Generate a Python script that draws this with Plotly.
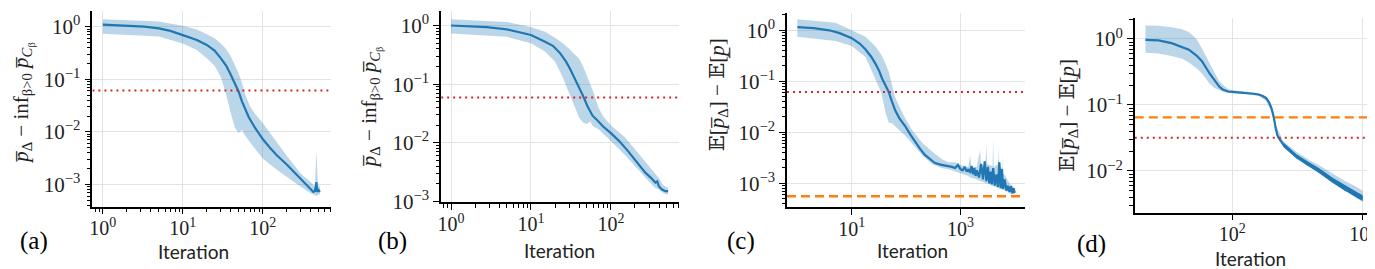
import plotly.graph_objects as go
import numpy as np

# ---------------- data ----------------
# Panel (a)
a_x = [1, 2, 3.3, 5, 7, 10, 15, 20, 25, 30, 35, 40, 45, 50, 55, 60, 67, 80, 100, 120, 150, 200, 250, 300, 350, 400, 430, 450, 470, 480, 500, 520]
a_mean = [1.09, 1.05, 1.0, 0.93, 0.83, 0.69, 0.56, 0.45, 0.35, 0.25, 0.18, 0.12, 0.08, 0.058, 0.038, 0.027, 0.019, 0.012, 0.0073, 0.0052, 0.0036, 0.0024, 0.0017, 0.0013, 0.001, 0.00082, 0.00072, 0.00075, 0.0011, 0.00072, 0.00078, 0.00072]
a_bx = [1, 5, 10, 15, 20, 25, 30, 35, 40, 45, 50, 55, 60, 70, 80, 100, 150, 200, 300, 400, 450, 470, 490, 520]
a_hi = [1.38, 1.25, 1.04, 0.88, 0.72, 0.6, 0.48, 0.37, 0.27, 0.19, 0.13, 0.085, 0.053, 0.03, 0.022, 0.0147, 0.0063, 0.0035, 0.0016, 0.0011, 0.0009, 0.0045, 0.001, 0.0009]
a_lo = [0.735, 0.65, 0.48, 0.36, 0.25, 0.18, 0.11, 0.05, 0.022, 0.012, 0.0095, 0.011, 0.0085, 0.0065, 0.0048, 0.0031, 0.0019, 0.0014, 0.0009, 0.00068, 0.00062, 0.0006, 0.00062, 0.00066]
a_ref = 0.061

# Panel (b)
b_x = [1, 2.8, 5, 10, 15, 18.8, 23, 27.6, 31, 35, 40, 44.4, 51, 59, 68, 80, 100, 127, 160, 203, 240, 270, 320, 360, 380, 400, 437, 480, 520]
b_mean = [1.0, 0.94, 0.86, 0.69, 0.53, 0.45, 0.34, 0.24, 0.18, 0.128, 0.09, 0.065, 0.042, 0.029, 0.024, 0.019, 0.0146, 0.0107, 0.0075, 0.005, 0.0038, 0.0031, 0.0025, 0.0021, 0.0022, 0.0018, 0.0016, 0.0015, 0.0015]
b_bx = [1, 5, 10, 15, 20, 25, 30, 35, 40, 45, 50, 55, 60, 70, 80, 100, 150, 200, 300, 360, 400, 450, 520]
b_hi = [1.28, 1.15, 0.94, 0.78, 0.62, 0.5, 0.4, 0.33, 0.27, 0.2, 0.14, 0.1, 0.075, 0.04, 0.028, 0.02, 0.0125, 0.0078, 0.004, 0.0029, 0.0025, 0.0019, 0.0017]
b_lo = [0.73, 0.64, 0.5, 0.36, 0.24, 0.13, 0.075, 0.042, 0.027, 0.022, 0.021, 0.023, 0.019, 0.017, 0.0145, 0.0107, 0.0062, 0.004, 0.0022, 0.0017, 0.0016, 0.0014, 0.0013]
b_ref = 0.059

# Panel (c)
c_x = [1, 2, 3.86, 6, 10, 14, 18, 23, 27.4, 32, 36, 42, 48, 55, 63, 75, 96, 120, 146, 180, 222, 280, 340, 450, 595, 700,
       800, 900, 1000, 1100, 1200, 1300, 1400, 1500, 1600, 1700, 1800, 1900, 2000, 2200, 2400, 2600, 2800, 3000, 3200,
       3400, 3600, 3800, 4000, 4300, 4600, 4900, 5200, 5500, 5800, 6100, 6500, 7000, 7500, 8000, 8500, 9000, 9500, 10000]
c_mean = [1.15, 1.1, 1.0, 0.88, 0.7, 0.55, 0.42, 0.3, 0.22, 0.16, 0.115, 0.085, 0.062, 0.04, 0.027, 0.019, 0.0133, 0.009, 0.0065, 0.0048, 0.0036, 0.0029, 0.0025, 0.0023, 0.0022, 0.0021,
          0.0020, 0.0023, 0.0019, 0.0018, 0.0021, 0.0017, 0.0019, 0.0016, 0.0022, 0.0015, 0.0020, 0.0014, 0.0018, 0.0013, 0.0024, 0.0012, 0.0027, 0.0011, 0.0021,
          0.0010, 0.0017, 0.00095, 0.0020, 0.0009, 0.0015, 0.00085, 0.0026, 0.0008, 0.0019, 0.00078, 0.0012, 0.00072, 0.0009, 0.00068, 0.00088, 0.00064, 0.0008, 0.00065]
c_bx = [1, 5, 10, 18, 27, 35, 42, 48, 55, 63, 75, 96, 130, 200, 300, 450, 600,
        800, 1000, 1400, 1500, 1600, 2000, 2300, 2400, 2900, 3000, 3100, 3900, 4000, 4100, 4900, 5000, 5100, 5900, 6000, 6100, 7000, 8000, 9000, 10000]
c_hi = [1.65, 1.4, 1.0, 0.75, 0.49, 0.33, 0.22, 0.154, 0.085, 0.049, 0.032, 0.019, 0.011, 0.0062, 0.0042, 0.003, 0.0026,
        0.0026, 0.0023, 0.0021, 0.0035, 0.0021, 0.0021, 0.0045, 0.0022, 0.0024, 0.006, 0.0024, 0.0022, 0.0075, 0.0021, 0.0024, 0.0048, 0.0024, 0.0019, 0.0035, 0.0016, 0.0013, 0.001, 0.0009, 0.0008]
c_lo = [0.75, 0.62, 0.49, 0.3, 0.115, 0.06, 0.024, 0.0154, 0.015, 0.0133, 0.011, 0.0087, 0.006, 0.0035, 0.0024, 0.002, 0.0019,
        0.0017, 0.0016, 0.0014, 0.0013, 0.0013, 0.0012, 0.0011, 0.0011, 0.001, 0.001, 0.001, 0.0009, 0.0009, 0.0009, 0.0008, 0.0008, 0.0008, 0.00075, 0.00075, 0.00075, 0.0007, 0.00065, 0.00062, 0.0006]
c_ref = 0.062
c_base = 0.00056

# Panel (d)
d_x = [1, 2, 4, 7, 10, 15, 20, 30, 40, 50, 60, 70, 80, 100, 150, 200, 300, 400, 500, 600, 700, 800, 900, 1000, 1100, 1200, 1500, 2000, 3000, 5000, 7500, 10000, 20000, 40000, 70000, 100000]
d_mean = [0.97, 0.95, 0.865, 0.76, 0.69, 0.56, 0.46, 0.30, 0.23, 0.19, 0.172, 0.164, 0.16, 0.158, 0.155, 0.153, 0.148, 0.144, 0.137, 0.127, 0.11, 0.088, 0.065, 0.044, 0.034, 0.031, 0.025, 0.021, 0.0165, 0.013, 0.011, 0.0098, 0.007, 0.0052, 0.0044, 0.0039]
d_bx = [1, 2, 4, 7, 10, 15, 20, 30, 40, 50, 60, 70, 80, 100, 200, 400, 600, 800, 1000, 1500, 3000, 6000, 10000, 20000, 40000, 70000, 100000]
d_hi = [1.6, 1.58, 1.5, 1.4, 1.28, 1.0, 0.72, 0.42, 0.3, 0.23, 0.2, 0.185, 0.175, 0.167, 0.16, 0.152, 0.135, 0.1, 0.05, 0.028, 0.0195, 0.0145, 0.0122, 0.0092, 0.007, 0.0058, 0.005]
d_lo = [0.62, 0.6, 0.55, 0.5, 0.44, 0.36, 0.3, 0.21, 0.18, 0.168, 0.16, 0.155, 0.152, 0.15, 0.147, 0.138, 0.115, 0.08, 0.04, 0.023, 0.0155, 0.0115, 0.0092, 0.0068, 0.005, 0.0040, 0.0034]
d_nx = [1500, 3000, 6000, 10000, 20000, 40000, 70000, 100000]
d_nhi = [0.027, 0.018, 0.0135, 0.011, 0.008, 0.006, 0.0049, 0.0043]
d_nlo = [0.023, 0.0155, 0.0118, 0.0093, 0.0068, 0.005, 0.0040, 0.0035]
d_ref = 0.032
d_base = 0.065

# ---------------- styling / layout ----------------
W, H = 1375, 269
BLUE = "#1f77b4"
BAND = "rgba(31,119,180,0.30)"
RED = "#d62728"
ORANGE = "#ff7f0e"
SERIF = "Liberation Serif, DejaVu Serif, serif"
SANS = "Lato, DejaVu Sans, sans-serif"

def px(xp):
    return xp / W

def py(yp):
    return 1 - yp / H

YLAB_AB = "<i>p̅</i><sub>Δ</sub> − inf<sub>β>0</sub> <i>p̅</i><sub><i>C</i><sub>β</sub></sub>"
YLAB_CD = "𝔼[<i>p̅</i><sub>Δ</sub>] − 𝔼[<i>p̲</i>]"

panels = [
    dict(name="a", xdom=(81, 321), ydom=(3, 207), xr=(-0.13, 2.85), yr=(-3.42, 0.30),
         xt=[1, 10, 100], xtt=["10<sup>0</sup>", "10<sup>1</sup>", "10<sup>2</sup>"], xminor=True,
         yt=[1e-3, 1e-2, 1e-1, 1], ytt=["10<sup>−3</sup>", "10<sup>−2</sup>", "10<sup>−1</sup>", "10<sup>0</sup>"],
         label="(a)", lab_xy=(22, 243), ylab_xy=(11, 99), xlab_xy=(183, 254), ylab=YLAB_AB),
    dict(name="b", xdom=(432.3, 671.7), ydom=(3, 202.7), xr=(-0.124, 2.85), yr=(-3.016, 0.249),
         xt=[1, 10, 100], xtt=["10<sup>0</sup>", "10<sup>1</sup>", "10<sup>2</sup>"], xminor=True,
         yt=[1e-3, 1e-2, 1e-1, 1], ytt=["10<sup>−3</sup>", "10<sup>−2</sup>", "10<sup>−1</sup>", "10<sup>0</sup>"],
         label="(b)", lab_xy=(383, 243), ylab_xy=(361, 103), xlab_xy=(552, 253), ylab=YLAB_AB),
    dict(name="c", xdom=(780.7, 1020), ydom=(5, 207.3), xr=(-0.19, 4.18), yr=(-3.46, 0.343),
         xt=[10, 1000], xtt=["10<sup>1</sup>", "10<sup>3</sup>"], xminor=False,
         yt=[1e-3, 1e-2, 1e-1, 1], ytt=["10<sup>−3</sup>", "10<sup>−2</sup>", "10<sup>−1</sup>", "10<sup>0</sup>"],
         label="(c)", lab_xy=(734, 243), ylab_xy=(711, 90), xlab_xy=(907, 253), ylab=YLAB_CD),
    dict(name="d", xdom=(1131, 1368), ydom=(10, 213.3), xr=(-0.245, 5.17), yr=(-2.63, 0.324),
         xt=[100, 100000], xtt=["10<sup>2</sup>", "10<sup>5</sup>"], xminor=False,
         yt=[1e-2, 1e-1, 1], ytt=["10<sup>−2</sup>", "10<sup>−1</sup>", "10<sup>0</sup>"],
         label="(d)", lab_xy=(1087, 246), ylab_xy=(1064, 112), xlab_xy=(1248, 261), ylab=YLAB_CD),
]

data = {
    "a": dict(x=a_x, m=a_mean, bx=a_bx, hi=a_hi, lo=a_lo, ref=a_ref, base=None),
    "b": dict(x=b_x, m=b_mean, bx=b_bx, hi=b_hi, lo=b_lo, ref=b_ref, base=None),
    "c": dict(x=c_x, m=c_mean, bx=c_bx, hi=c_hi, lo=c_lo, ref=c_ref, base=c_base),
    "d": dict(x=d_x, m=d_mean, bx=d_bx, hi=d_hi, lo=d_lo, ref=d_ref, base=d_base),
}

def minor_vals(lo_exp, hi_exp):
    vals = []
    for e in range(lo_exp, hi_exp + 1):
        for k in range(2, 10):
            vals.append(k * 10.0 ** e)
    return vals

fig = go.Figure()
layout = dict(width=W, height=H, margin=dict(l=0, r=0, t=0, b=0),
              paper_bgcolor="white", plot_bgcolor="white", showlegend=False)
annotations = []

for i, p in enumerate(panels):
    n = "" if i == 0 else str(i + 1)
    xa, ya = "x" + n, "y" + n
    d = data[p["name"]]
    fig.add_trace(go.Scatter(x=d["bx"] + d["bx"][::-1], y=d["hi"] + d["lo"][::-1],
                             fill="toself", fillcolor=BAND, line=dict(width=0),
                             mode="lines", hoverinfo="skip", xaxis=xa, yaxis=ya))
    if p["name"] == "d":
        fig.add_trace(go.Scatter(x=d_nx + d_nx[::-1], y=d_nhi + d_nlo[::-1],
                                 fill="toself", fillcolor=BLUE, line=dict(width=0),
                                 mode="lines", hoverinfo="skip", xaxis=xa, yaxis=ya))
    fig.add_trace(go.Scatter(x=d["x"], y=d["m"], mode="lines",
                             line=dict(color=BLUE, width=2.2), xaxis=xa, yaxis=ya))
    xr_vals = [10 ** p["xr"][0], 10 ** p["xr"][1]]
    if d["base"] is not None:
        fig.add_trace(go.Scatter(x=xr_vals, y=[d["base"], d["base"]], mode="lines",
                                 line=dict(color=ORANGE, width=2.4, dash="9px,5px"), xaxis=xa, yaxis=ya))
    fig.add_trace(go.Scatter(x=xr_vals, y=[d["ref"], d["ref"]], mode="lines",
                             line=dict(color=RED, width=2, dash="2px,4px"), xaxis=xa, yaxis=ya))

    ymin_e = int(np.floor(p["yr"][0]))
    ymax_e = int(np.ceil(p["yr"][1]))
    xaxis = dict(type="log", range=list(p["xr"]), domain=[px(p["xdom"][0]), px(p["xdom"][1])],
                 anchor=ya, showline=True, linecolor="black", linewidth=1.6,
                 ticks="outside", ticklen=6, tickwidth=1.3, tickcolor="black",
                 tickvals=p["xt"], ticktext=p["xtt"], tickmode="array", ticklabelstandoff=-3,
                 tickfont=dict(family=SERIF, size=20, color="#222"),
                 showgrid=True, gridcolor="#e3e3e3", gridwidth=1.2, zeroline=False)
    if p["xminor"]:
        xaxis["minor"] = dict(tickmode="array", tickvals=minor_vals(-1, 2), ticks="outside",
                              ticklen=3.5, tickwidth=1, tickcolor="black", showgrid=False)
    yaxis = dict(type="log", range=list(p["yr"]), domain=[py(p["ydom"][1]), py(p["ydom"][0])],
                 anchor=xa, showline=True, linecolor="black", linewidth=1.6,
                 ticks="outside", ticklen=6, tickwidth=1.3, tickcolor="black",
                 tickvals=p["yt"], ticktext=p["ytt"], tickmode="array",
                 tickfont=dict(family=SERIF, size=21, color="#222"),
                 showgrid=True, gridcolor="#e3e3e3", gridwidth=1.2, zeroline=False,
                 minor=dict(tickmode="array", tickvals=minor_vals(ymin_e, ymax_e), ticks="outside",
                            ticklen=3.5, tickwidth=1, tickcolor="black", showgrid=False))
    layout["xaxis" + n] = xaxis
    layout["yaxis" + n] = yaxis

    common = dict(xref="paper", yref="paper", showarrow=False, xanchor="center", yanchor="middle")
    annotations.append(dict(text=p["label"], x=px(p["lab_xy"][0]), y=py(p["lab_xy"][1]),
                            font=dict(family=SERIF, size=25, color="black"), **common))
    annotations.append(dict(text="Iteration", x=px(p["xlab_xy"][0]), y=py(p["xlab_xy"][1]),
                            font=dict(family=SANS, size=19, color="#222"), **common))
    annotations.append(dict(text=p["ylab"], x=px(p["ylab_xy"][0]), y=py(p["ylab_xy"][1]),
                            textangle=-90, font=dict(family=SERIF, size=21, color="#222"), **common))

layout["annotations"] = annotations
fig.update_layout(**layout)
fig.write_html("out.html")
